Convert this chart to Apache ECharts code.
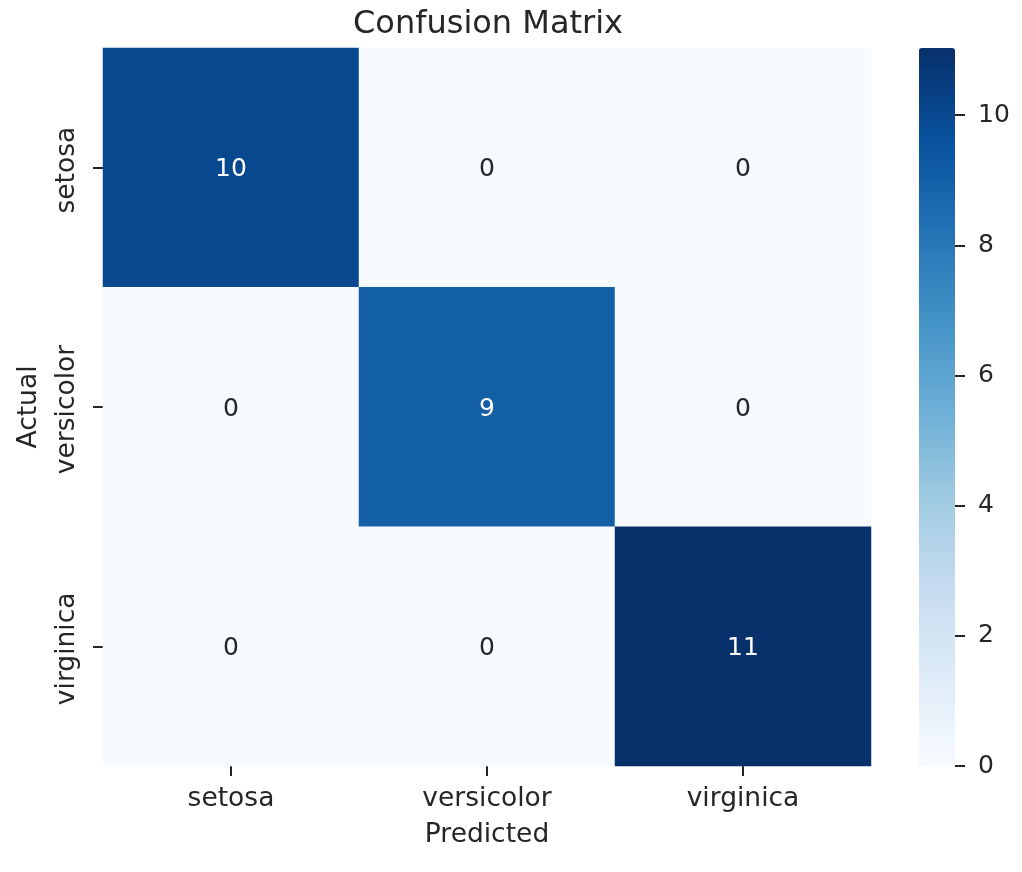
<!DOCTYPE html>
<html>
<head>
<meta charset="utf-8">
<script src="https://cdn.jsdelivr.net/npm/echarts@6/dist/echarts.min.js"></script>
<style>
html, body { margin: 0; padding: 0; background: #fff; }
#chart { width: 1022px; height: 872px; }
</style>
</head>
<body>
<div id="chart"></div>
<script>
var predicted = ['setosa', 'versicolor', 'virginica'];
var actual = ['setosa', 'versicolor', 'virginica'];
var row_setosa = [10, 0, 0];
var row_versicolor = [0, 9, 0];
var row_virginica = [0, 0, 11];
var colorbarTicks = [0, 2, 4, 6, 8, 10];
var blues = ['#f7fbff', '#deebf7', '#c6dbef', '#9ecae1', '#6baed6', '#4292c6', '#2171b5', '#08519c', '#08306b'];

var rows = [row_setosa, row_versicolor, row_virginica];
var cells = [];
rows.forEach(function (row, y) {
    row.forEach(function (v, x) {
        cells.push({
            value: [x, y, v],
            // white text on the dark diagonal cells
            label: { color: v > 5 ? '#ffffff' : '#262626' }
        });
    });
});

var font = 'DejaVu Sans';
var txt = '#262626';
var tickStyle = { show: true, alignWithLabel: true, length: 10, lineStyle: { color: txt, width: 2 } };

var chart = echarts.init(document.getElementById('chart'));
chart.setOption({
    animation: false,
    backgroundColor: '#fff',
    textStyle: { fontFamily: font },
    title: {
        text: 'Confusion Matrix',
        left: 483,
        top: 4,
        textAlign: 'center',
        textStyle: { fontFamily: font, fontSize: 32, fontWeight: 'normal', color: txt }
    },
    grid: [
        { left: 103, top: 48, width: 768, height: 718, outerBoundsMode: 'none' },
        { left: 919, top: 50, width: 36, height: 716, outerBoundsMode: 'none' }
    ],
    xAxis: [{
        type: 'category',
        gridIndex: 0,
        data: predicted,
        name: 'Predicted',
        nameLocation: 'middle',
        nameGap: 56,
        nameMoveOverlap: false,
        nameTextStyle: { fontSize: 26.5, color: txt },
        axisLine: { show: false },
        axisTick: tickStyle,
        axisLabel: { fontSize: 26.5, color: txt, margin: 20 },
        splitLine: { show: false }
    }, {
        type: 'value',
        gridIndex: 1,
        min: 0,
        max: 1,
        show: false
    }],
    yAxis: [{
        type: 'category',
        gridIndex: 0,
        data: actual,
        inverse: true,
        name: 'Actual',
        nameLocation: 'middle',
        nameGap: 60,
        nameRotate: 90,
        nameMoveOverlap: false,
        nameTextStyle: { fontSize: 26.5, color: txt },
        axisLine: { show: false },
        axisTick: tickStyle,
        axisLabel: { fontSize: 26.5, color: txt, rotate: 90, margin: 22, align: 'center', verticalAlign: 'bottom', padding: [0, 5, 0, 0] },
        splitLine: { show: false }
    }, {
        type: 'value',
        gridIndex: 1,
        position: 'right',
        min: 0,
        max: 11,
        axisLine: { show: false, onZero: false },
        axisTick: { show: true, length: 10, lineStyle: { color: txt, width: 2 }, customValues: colorbarTicks },
        axisLabel: { fontSize: 25, color: txt, margin: 23, padding: [5, 0, 0, 0], customValues: colorbarTicks },
        splitLine: { show: false }
    }],
    visualMap: {
        type: 'continuous',
        seriesIndex: 0,
        min: 0,
        max: 11,
        show: true,
        calculable: false,
        realtime: false,
        hoverLink: false,
        left: 919,
        top: 48,
        padding: 0,
        itemWidth: 36,
        itemHeight: 718,
        text: ['', ''],
        textGap: 0,
        inRange: { color: blues }
    },
    series: [{
        type: 'heatmap',
        xAxisIndex: 0,
        yAxisIndex: 0,
        data: cells,
        label: {
            show: true,
            fontFamily: font,
            fontSize: 25,
            offset: [0, 2],
            formatter: function (p) { return String(p.value[2]); }
        },
        itemStyle: { borderWidth: 0 },
        emphasis: { disabled: true }
    }]
});
</script>
</body>
</html>
